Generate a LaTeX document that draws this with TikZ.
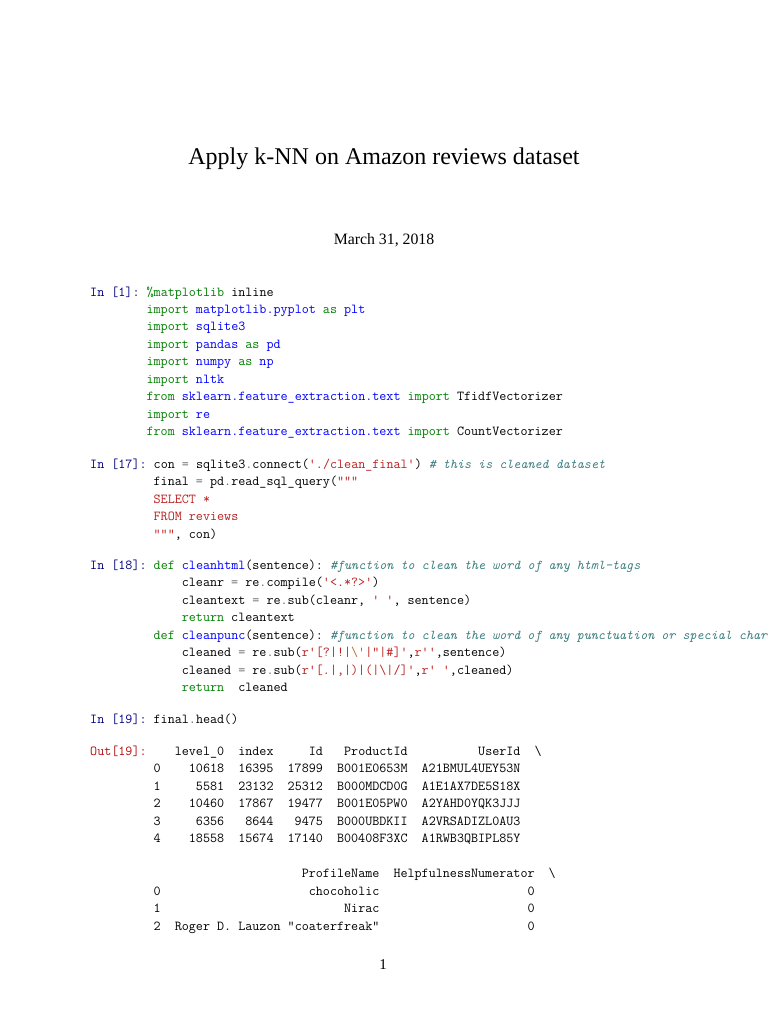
\documentclass[tikz,border=0pt]{standalone}
\usepackage{fontspec}
\setmainfont{Liberation Serif}
\usepackage{tikz}
\definecolor{incolor}{rgb}{0.0,0.0,0.5}
\definecolor{outcolor}{rgb}{0.7,0.05,0.05}
\definecolor{kwc}{rgb}{0,0.5,0}
\definecolor{nmc}{rgb}{0,0,1}
\definecolor{stc}{rgb}{0.73,0.13,0.13}
\definecolor{esc}{rgb}{0.73,0.40,0.13}
\definecolor{cmc}{rgb}{0.25,0.5,0.5}
\definecolor{opc}{rgb}{0.4,0.4,0.4}
\newcommand{\kw}[1]{\textcolor{kwc}{#1}}
\newcommand{\nm}[1]{\textcolor{nmc}{#1}}
\newcommand{\st}[1]{\textcolor{stc}{#1}}
\newcommand{\cm}[1]{\textcolor{cmc}{\itshape\fontsize{13.43}{17.5}\selectfont #1}}
\newcommand{\op}[1]{\textcolor{opc}{#1}}
\newcommand{\codeline}[4]{
\node[codetext] (#1) at (#2,#3) {#4};
}
\tikzset{
codetext/.style={anchor=base west,inner sep=0pt,font=\ttfamily\fontsize{13.7}{17.5}\selectfont\frenchspacing},
pagetext/.style={anchor=base,inner sep=0pt}
}
\begin{document}
\begin{tikzpicture}[x=1pt,y=-1pt]
\useasboundingbox[fill=white] (0,0) rectangle (768,1024);
\node[pagetext,font=\fontsize{24}{28}\selectfont] (title) at (384,164.5) {Apply k-NN on Amazon reviews dataset};
\node[pagetext,font=\fontsize{15.8}{18}\selectfont] (date) at (384,244) {March 31, 2018};
% first cell
\begin{scope}[shift={(90,296)}]
\codeline{inone}{0}{0}{\textcolor{incolor}{In [1]:} \kw{\%matplotlib} inline}
\codeline{imone}{56.4}{17.45}{\kw{import} \nm{matplotlib.pyplot} \kw{as} \nm{plt}}
\codeline{imtwo}{56.4}{34.9}{\kw{import} \nm{sqlite3}}
\codeline{imthree}{56.4}{52.35}{\kw{import} \nm{pandas} \kw{as} \nm{pd}}
\codeline{imfour}{56.4}{69.8}{\kw{import} \nm{numpy} \kw{as} \nm{np}}
\codeline{imfive}{56.4}{87.25}{\kw{import} \nm{nltk}}
\codeline{imsix}{56.4}{104.7}{\kw{from} \nm{sklearn.feature\_extraction.text} \kw{import} TfidfVectorizer}
\codeline{imseven}{56.4}{122.15}{\kw{import} \nm{re}}
\codeline{imeight}{56.4}{139.6}{\kw{from} \nm{sklearn.feature\_extraction.text} \kw{import} CountVectorizer}
\end{scope}
% second cell
\begin{scope}[shift={(90,468.5)}]
\codeline{inseventeen}{0}{0}{\textcolor{incolor}{In [17]:} con \op{=} sqlite3\op{.}connect(\st{'./clean\_final'}) \cm{\# this is cleaned dataset}}
\codeline{sqlone}{63.45}{17.45}{final \op{=} pd\op{.}read\_sql\_query(\st{"""}}
\codeline{sqltwo}{63.45}{34.9}{\st{SELECT *}}
\codeline{sqlthree}{63.45}{52.35}{\st{FROM reviews}}
\codeline{sqlfour}{63.45}{69.8}{\st{"""}, con)}
\end{scope}
% third cell
\begin{scope}[shift={(90,569.2)}]
\codeline{ineighteen}{0}{0}{\textcolor{incolor}{In [18]:} \kw{def} \nm{cleanhtml}(sentence): \cm{\#function to clean the word of any html-tags}}
\codeline{htmlone}{91.65}{17.5}{cleanr \op{=} re\op{.}compile(\st{'<.*?>'})}
\codeline{htmltwo}{91.65}{35}{cleantext \op{=} re\op{.}sub(cleanr, \st{' '}, sentence)}
\codeline{htmlthree}{91.65}{52.5}{\kw{return} cleantext}
\codeline{puncdef}{63.45}{70}{\kw{def} \nm{cleanpunc}(sentence): \cm{\#function to clean the word of any punctuation or special char}}
\codeline{puncone}{91.65}{87.5}{cleaned \op{=} re\op{.}sub(\st{r'[?|!|}\textcolor{esc}{\textbackslash'}\st{|"|\#]'},\st{r''},sentence)}
\codeline{punctwo}{91.65}{105}{cleaned \op{=} re\op{.}sub(\st{r'[.|,|)|(|\textbackslash|/]'},\st{r' '},cleaned)}
\codeline{puncthree}{91.65}{122.5}{\kw{return} ~cleaned}
\end{scope}
% fourth cell
\codeline{innineteen}{90}{723}{\textcolor{incolor}{In [19]:} final\op{.}head()}
% output
\codeline{outnineteen}{90}{755.4}{\textcolor{outcolor}{Out[19]:}}
\begin{scope}[shift={(153.45,755.4)}]
\codeline{headone}{0}{0}{~~~level\_0~~index~~~~~Id~~~ProductId~~~~~~~~~~UserId~~\textbackslash}
\codeline{rowzero}{0}{17.5}{0~~~~10618~~16395~~17899~~B001E0653M~~A21BMUL4UEY53N}
\codeline{rowone}{0}{35}{1~~~~~5581~~23132~~25312~~B000MDCD0G~~A1E1AX7DE5S18X}
\codeline{rowtwo}{0}{52.5}{2~~~~10460~~17867~~19477~~B001E05PW0~~A2YAHD0YQK3JJJ}
\codeline{rowthree}{0}{70}{3~~~~~6356~~~8644~~~9475~~B000UBDKII~~A2VRSADIZL0AU3}
\codeline{rowfour}{0}{87.5}{4~~~~18558~~15674~~17140~~B00408F3XC~~A1RWB3QBIPL85Y}
\codeline{headtwo}{0}{122.5}{~~~~~~~~~~~~~~~~~~~~~ProfileName~~HelpfulnessNumerator~~\textbackslash}
\codeline{namezero}{0}{140}{0~~~~~~~~~~~~~~~~~~~~~chocoholic~~~~~~~~~~~~~~~~~~~~~0}
\codeline{nameone}{0}{157.5}{1~~~~~~~~~~~~~~~~~~~~~~~~~~Nirac~~~~~~~~~~~~~~~~~~~~~0}
\codeline{nametwo}{0}{175}{2~~Roger~D.~Lauzon~"coaterfreak"~~~~~~~~~~~~~~~~~~~~~0}
\end{scope}
\node[pagetext,font=\fontsize{15}{18}\selectfont] (pagenum) at (383,969) {1};
\end{tikzpicture}
\end{document}
